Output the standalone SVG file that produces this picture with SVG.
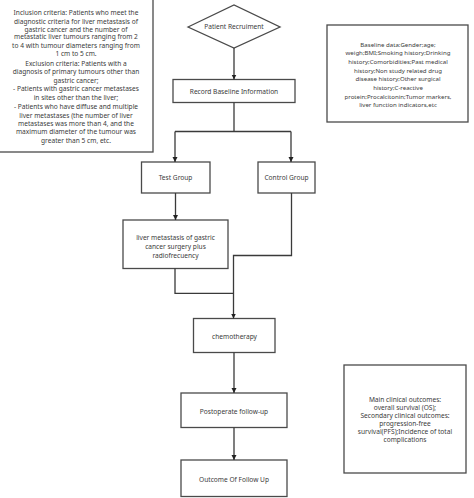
<svg xmlns="http://www.w3.org/2000/svg" width="474" height="498" viewBox="0 0 474 498">
<defs>
<style>
.box{fill:#fff;stroke:#4a4a4a;stroke-width:1.3}
.t{font-family:"Noto Sans","Open Sans",sans-serif;font-size:6.6px;fill:#3a3a3a;text-anchor:middle}
.s{font-size:6.1px}
.c{fill:none;stroke:#3a3a3a;stroke-width:1.3}
</style>
<marker id="ah" viewBox="0 0 10 10" refX="10" refY="5" markerWidth="5" markerHeight="6" markerUnits="userSpaceOnUse" orient="auto">
<path d="M0,0 L10,5 L0,10 z" fill="#222"/>
</marker>
</defs>
<rect width="474" height="498" fill="#fff"/>
<g id="criteria">
<rect class="box" x="-1" y="-1" width="154" height="153"/>
<text class="t" x="76"><tspan x="76" y="15">Inclusion criteria: Patients who meet the</tspan><tspan x="76" y="23.8">diagnostic criteria for liver metastasis of</tspan><tspan x="76" y="31.6">gastric cancer and the number of</tspan><tspan x="76" y="39.2">metastatic liver tumours ranging from 2</tspan><tspan x="76" y="47.5">to 4 with tumour diameters ranging from</tspan><tspan x="76" y="55.8">1 cm to 5 cm.</tspan><tspan x="76" y="65.8">Exclusion criteria: Patients with a</tspan><tspan x="76" y="74.2">diagnosis of primary tumours other than</tspan><tspan x="76" y="82.5">gastric cancer;</tspan><tspan x="76" y="90.8">- Patients with gastric cancer metastases</tspan><tspan x="76" y="99.8">in sites other than the liver;</tspan><tspan x="76" y="109.2">- Patients who have diffuse and multiple</tspan><tspan x="76" y="117.5">liver metastases (the number of liver</tspan><tspan x="76" y="125.8">metastases was more than 4, and the</tspan><tspan x="76" y="134.2">maximum diameter of the tumour was</tspan><tspan x="76" y="142.5">greater than 5 cm, etc.</tspan></text>
</g>
<g id="recruitment">
<polygon class="box" points="188,27 234,5 280,27 234,48"/>
<text class="t" x="234" y="29.3">Patient Recruiment</text>
</g>
<g id="baseline-data">
<rect class="box" x="327" y="25" width="141" height="97"/>
<text class="t s"><tspan x="398" y="46.5">Baseline data:Gender;age;</tspan><tspan x="398" y="55.3">weigh;BMI;Smoking history;Drinking</tspan><tspan x="398" y="64">history;Comorbidities;Past medical</tspan><tspan x="398" y="72.7">history;Non study related drug</tspan><tspan x="398" y="81.4">disease history;Other surgical</tspan><tspan x="398" y="90.1">history;C-reactive</tspan><tspan x="398" y="98.6">protein;Procalcitonin;Tumor markers,</tspan><tspan x="398" y="107">liver function indicators,etc</tspan></text>
</g>
<g id="record">
<rect class="box" x="173" y="79.5" width="122" height="23"/>
<text class="t" x="234" y="93.5">Record Baseline Information</text>
</g>
<g id="test">
<rect class="box" x="141.5" y="162" width="68.5" height="31"/>
<text class="t" x="175.5" y="180">Test Group</text>
</g>
<g id="control">
<rect class="box" x="258" y="162" width="57" height="31"/>
<text class="t" x="286.5" y="180">Control Group</text>
</g>
<g id="surgery">
<rect class="box" x="123" y="220" width="105" height="48.5"/>
<text class="t"><tspan x="175.5" y="240">liver metastasis of gastric</tspan><tspan x="175.5" y="249">cancer surgery plus</tspan><tspan x="175.5" y="257.5">radiofrecuency</tspan></text>
</g>
<g id="chemo">
<rect class="box" x="193.5" y="318.5" width="81.5" height="34"/>
<text class="t" x="234.5" y="338.5">chemotherapy</text>
</g>
<g id="followup">
<rect class="box" x="181" y="393" width="106" height="34.5"/>
<text class="t" x="234" y="414">Postoperate follow-up</text>
</g>
<g id="outcome">
<rect class="box" x="181" y="460" width="106" height="36.5"/>
<text class="t" x="234" y="481.5">Outcome Of Follow Up</text>
</g>
<g id="outcomes-note">
<rect class="box" x="344" y="365" width="122" height="108"/>
<text class="t"><tspan x="405" y="402.3">Main clinical outcomes:</tspan><tspan x="405" y="410">overall survival (OS);</tspan><tspan x="405" y="418.3">Secondary clinical outcomes:</tspan><tspan x="405" y="426.3">progression-free</tspan><tspan x="405" y="434.3">survival(PFS);Incidence of total</tspan><tspan x="405" y="442.3">complications</tspan></text>
</g>
<g id="connectors">
<line class="c" x1="234" y1="48" x2="234" y2="79.5" marker-end="url(#ah)"/>
<polyline class="c" points="234,102.5 234,131.5"/>
<polyline class="c" points="175,131.5 291,131.5"/>
<line class="c" x1="175" y1="131.5" x2="175" y2="162" marker-end="url(#ah)"/>
<line class="c" x1="291" y1="131.5" x2="291" y2="162" marker-end="url(#ah)"/>
<line class="c" x1="175.5" y1="193" x2="175.5" y2="220" marker-end="url(#ah)"/>
<polyline class="c" points="175,268.5 175,293.3 233.5,293.3"/>
<polyline class="c" points="291.5,193 291.5,255.5 233.5,255.5 233.5,318.5" marker-end="url(#ah)"/>
<line class="c" x1="234" y1="352.5" x2="234" y2="393" marker-end="url(#ah)"/>
<line class="c" x1="234" y1="427.5" x2="234" y2="460" marker-end="url(#ah)"/>
</g>
</svg>
